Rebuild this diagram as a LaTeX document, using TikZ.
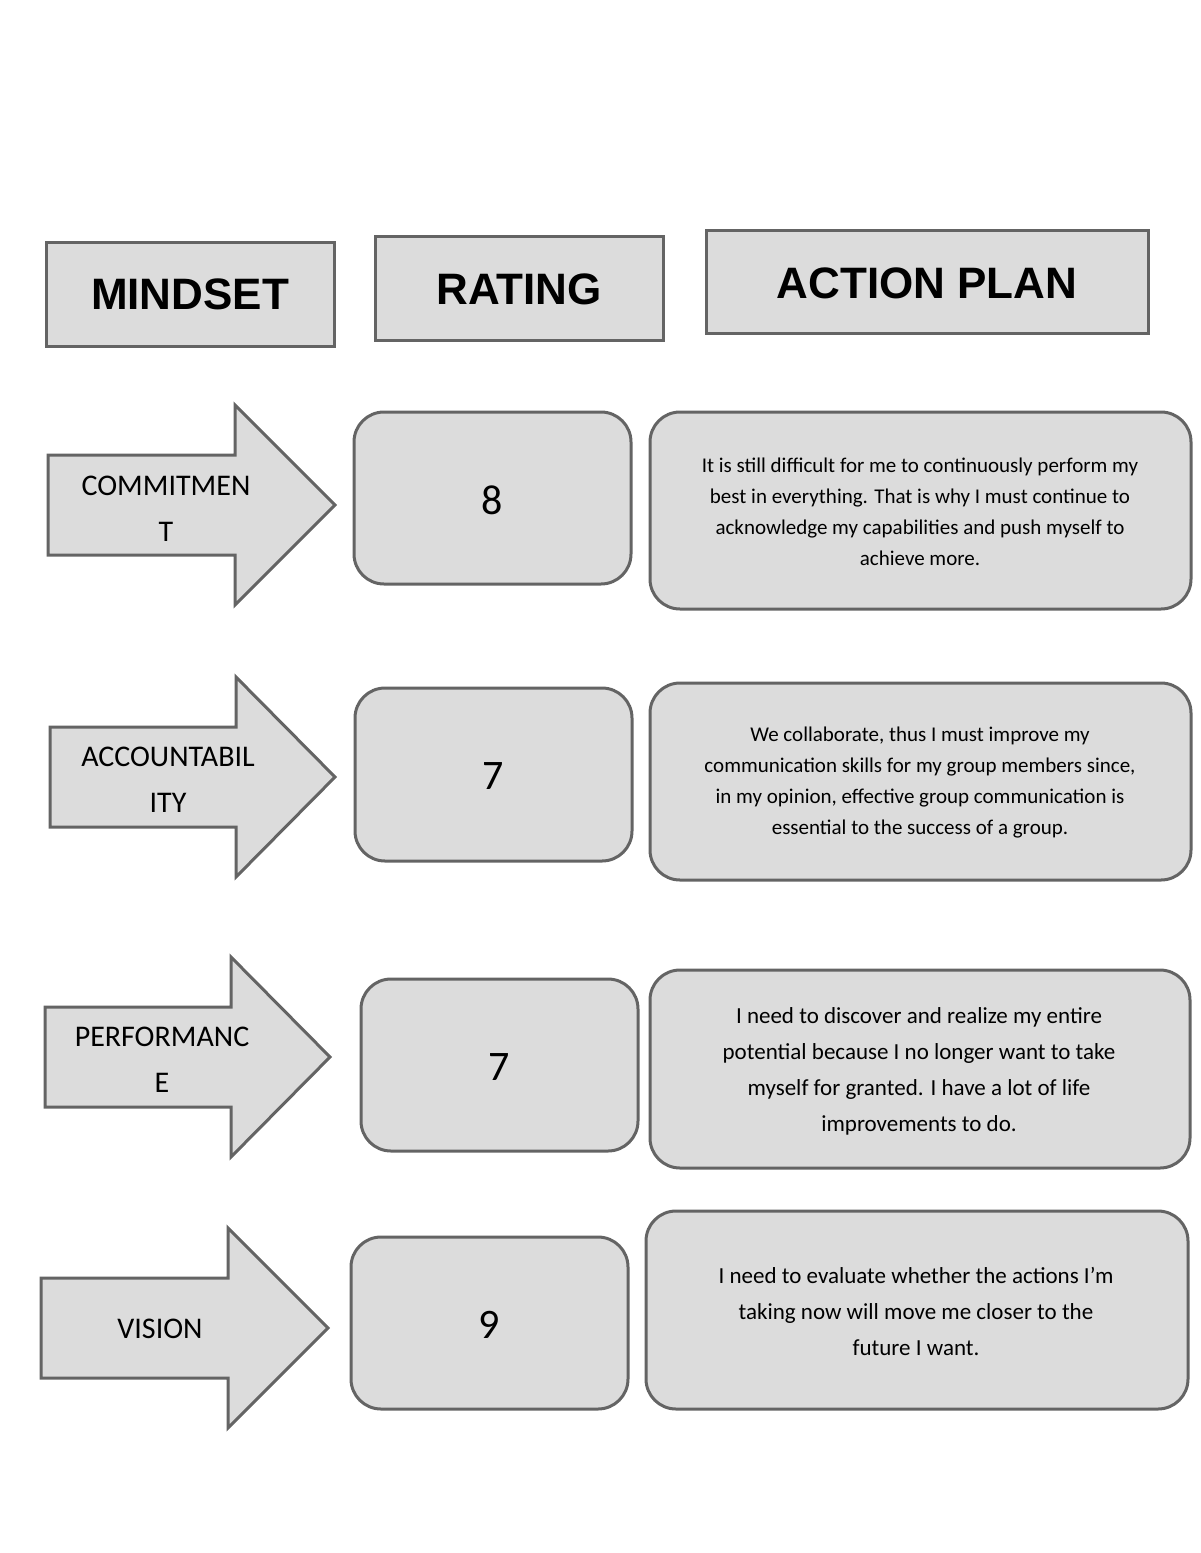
\documentclass[tikz,border=0pt]{standalone}
\usepackage{fontspec}
\setmainfont{Carlito}
\newfontfamily\hdfont{Liberation Sans}
\begin{document}
\begin{tikzpicture}[x=0.5pt,y=-0.5pt,
  shp/.style={fill={rgb,255:red,220;green,220;blue,220},draw={rgb,255:red,100;green,100;blue,100},line width=1.5pt},
  hd/.style={font=\hdfont\bfseries\fontsize{22}{26}\selectfont},
  rb/.style={shp,rounded corners=15pt},
  lab/.style={font=\fontsize{15}{23}\selectfont,align=center},
  num/.style={font=\fontsize{21}{24}\selectfont},
  act/.style={font=\fontsize{10.5}{15.5}\selectfont,align=center},
  actb/.style={font=\fontsize{11.5}{18}\selectfont,align=center}]
\useasboundingbox (0,0) rectangle (1200,1553);
% headers
\draw[shp] (46,242) rectangle (334,346); \node[hd] (h1) at (190,294) {MINDSET};
\draw[shp] (375,236) rectangle (663,340); \node[hd] (h2) at (519,289) {RATING};
\draw[shp] (706,230) rectangle (1148,333); \node[hd] (h3) at (927,283) {ACTION PLAN};
% arrows
\newcommand\arr[6]{% x1 xb y1 y2 tip name
  \draw[shp] (#1,#3) -- (#2,#3) -- (#2,#3-50) -- (#5,{(#3+#4)/2}) -- (#2,#4+50) -- (#2,#4) -- (#1,#4) -- cycle;}
\arr{48}{235}{455}{555}{335}{}
\node[lab] (a1) at (166,509) {COMMITMEN\\T};
\arr{50}{236}{727}{827}{335}{}
\node[lab] (a2) at (168,780) {ACCOUNTABIL\\ITY};
\arr{45}{231}{1007}{1107}{330}{}
\node[lab] (a3) at (162,1060) {PERFORMANC\\E};
\arr{41}{228}{1278}{1378}{328}{}
\node[lab] (a4) at (160,1329) {VISION};
% ratings
\draw[rb] (354,412) rectangle (631,584); \node[num] (r1) at (492,500) {8};
\draw[rb] (355,688) rectangle (632,861); \node[num] (r2) at (493,776) {7};
\draw[rb] (361,979) rectangle (638,1151); \node[num] (r3) at (499,1067) {7};
\draw[rb] (351,1237) rectangle (628,1409); \node[num] (r4) at (489,1325) {9};
% actions
\draw[rb] (650,412) rectangle (1191,609);
\node[act] (p1) at (920,512) {It is still difficult for me to continuously perform my\\best in everything. That is why I must continue to\\acknowledge my capabilities and push myself to\\achieve more.};
\draw[rb] (650,683) rectangle (1191,880);
\node[act] (p2) at (920,783) {We collaborate, thus I must improve my\\communication skills for my group members since,\\in my opinion, effective group communication is\\essential to the success of a group.};
\draw[rb] (650,970) rectangle (1190,1168);
\node[actb] (p3) at (919,1071) {I need to discover and realize my entire\\potential because I no longer want to take\\myself for granted. I have a lot of life\\improvements to do.};
\draw[rb] (646,1211) rectangle (1188,1409);
\node[actb] (p4) at (916,1311) {I need to evaluate whether the actions I'm\\taking now will move me closer to the\\future I want.};
\end{tikzpicture}
\end{document}
